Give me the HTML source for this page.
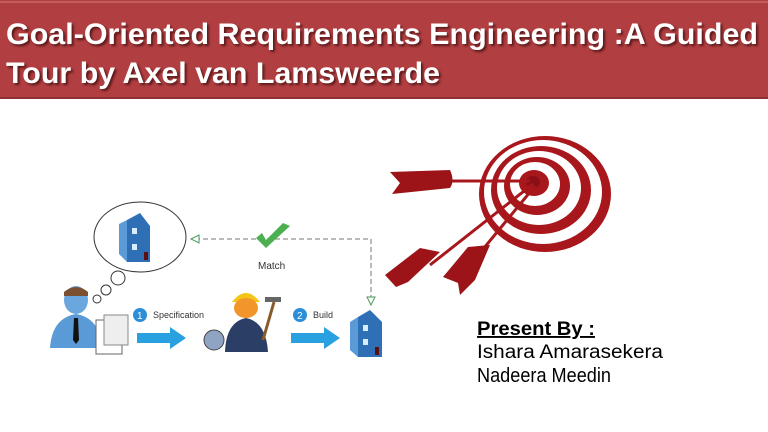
<!DOCTYPE html>
<html><head><meta charset="utf-8"><style>
html,body{margin:0;padding:0;background:#fff;width:768px;height:432px;overflow:hidden}
svg{display:block}
</style></head><body>
<svg width="768" height="432" viewBox="0 0 768 432" xmlns="http://www.w3.org/2000/svg" font-family="Liberation Sans, sans-serif">
<rect x="0" y="0" width="768" height="432" fill="#fff"/>
<rect x="0" y="0" width="768" height="99" fill="#b13e41"/>
<rect x="0" y="97" width="768" height="2" fill="#8e2f31"/>
<rect x="0" y="1" width="768" height="2" fill="#c25c5e"/>
<g font-weight="bold" font-size="30" fill="#fff" style="text-shadow:2px 2px 2px #5a1a1b">
<text x="6" y="44" textLength="752" lengthAdjust="spacingAndGlyphs">Goal-Oriented Requirements Engineering :A Guided</text>
<text x="6" y="83" textLength="434" lengthAdjust="spacingAndGlyphs">Tour by Axel van Lamsweerde</text>
</g>
<!-- target -->
<g>
<ellipse cx="545" cy="194" rx="66" ry="58" fill="#a8171c"/>
<ellipse cx="543" cy="192" rx="59" ry="52" fill="#fff"/>
<ellipse cx="541" cy="190" rx="50" ry="44" fill="#a8171c"/>
<ellipse cx="539" cy="188" rx="42" ry="37" fill="#fff"/>
<ellipse cx="537" cy="186" rx="33" ry="29" fill="#a8171c"/>
<ellipse cx="535" cy="184" rx="25" ry="22" fill="#fff"/>
<ellipse cx="534" cy="183" rx="15" ry="13" fill="#a8171c"/>
<ellipse cx="533" cy="182" rx="7" ry="6" fill="#8a1015"/>
</g>
<g stroke="#a8171c" stroke-width="3" fill="none">
<line x1="440" y1="181" x2="530" y2="181"/>
<line x1="430" y1="265" x2="533" y2="184"/>
<line x1="470" y1="265" x2="535" y2="186"/>
</g>
<path d="M390,172 L450,170 Q455,181 450,188 L392,194 L400,183 Z" fill="#9c1418"/>
<path d="M385,275 L420,248 L440,252 L408,282 L396,287 Z" fill="#9c1418"/>
<path d="M443,277 L468,247 L490,245 L475,280 L460,295 L458,283 Z" fill="#9c1418"/>
<!-- diagram -->
<ellipse cx="140" cy="237" rx="46" ry="35" fill="#fff" stroke="#333" stroke-width="1"/>
<circle cx="118" cy="278" r="7" fill="#fff" stroke="#333"/>
<circle cx="106" cy="290" r="5" fill="#fff" stroke="#333"/>
<circle cx="97" cy="299" r="4" fill="#fff" stroke="#333"/>
<polygon points="127,220 140,213 150,226 150,262 127,262" fill="#2f6fb5"/>
<polygon points="127,220 119,224 119,254 127,262" fill="#5a9ad6"/>
<rect x="132" y="228" width="5" height="6" fill="#d8ecff"/>
<rect x="132" y="244" width="5" height="6" fill="#d8ecff"/>
<rect x="144" y="252" width="4" height="8" fill="#5a1010"/>
<polygon points="358,317 370,310 382,322 382,357 358,357" fill="#2f6fb5"/>
<polygon points="358,317 350,322 350,350 358,357" fill="#5a9ad6"/>
<rect x="363" y="325" width="5" height="6" fill="#d8ecff"/>
<rect x="363" y="339" width="5" height="6" fill="#d8ecff"/>
<rect x="375" y="347" width="4" height="8" fill="#5a1010"/>
<path d="M195,239 L371,239 L371,300" fill="none" stroke="#777" stroke-dasharray="5,3"/>
<polygon points="191,239 199,235 199,243" fill="#fff" stroke="#4a9a5a"/>
<polygon points="367,297 375,297 371,305" fill="#fff" stroke="#4a9a5a"/>
<path d="M256,238 L266,248 L290,226 L283,223 L266,240 L262,233 Z" fill="#4caf50"/>
<text x="258" y="269" font-size="10" fill="#333">Match</text>
<!-- person -->
<ellipse cx="76" cy="300" rx="12" ry="14" fill="#6aa7df"/>
<path d="M64,292 Q76,282 88,292 L88,296 L64,296 Z" fill="#7a5030"/>
<path d="M50,348 Q52,318 76,314 Q100,318 102,348 Z" fill="#5a9ad6"/>
<path d="M74,318 L78,318 L79,340 L76,344 L73,340 Z" fill="#111"/>
<rect x="96" y="320" width="26" height="34" fill="#fff" stroke="#666"/>
<rect x="104" y="315" width="24" height="30" fill="#eee" stroke="#888"/>
<circle cx="140" cy="315" r="7" fill="#2c8ed6"/>
<text x="137" y="319" font-size="10" fill="#fff">1</text>
<text x="153" y="318" font-size="9" fill="#333">Specification</text>
<path d="M137,333 L170,333 L170,327 L186,338 L170,349 L170,343 L137,343 Z" fill="#29a0e0"/>
<circle cx="300" cy="315" r="7" fill="#2c8ed6"/>
<text x="297" y="319" font-size="10" fill="#fff">2</text>
<text x="313" y="318" font-size="9" fill="#333">Build</text>
<path d="M291,333 L324,333 L324,327 L340,338 L324,349 L324,343 L291,343 Z" fill="#29a0e0"/>
<!-- worker -->
<path d="M232,302 Q246,284 260,302 Z" fill="#f6c416"/>
<ellipse cx="246" cy="308" rx="12" ry="10" fill="#f2962b"/>
<path d="M225,352 Q226,322 246,318 Q266,322 268,352 Z" fill="#2b3e66"/>
<circle cx="214" cy="340" r="10" fill="#8fa4c2" stroke="#444"/>
<line x1="263" y1="340" x2="274" y2="302" stroke="#8b5a2b" stroke-width="3"/>
<rect x="265" y="297" width="16" height="5" fill="#666"/>
<!-- presenters -->
<g font-size="19" fill="#000">
<text x="477" y="335" font-weight="bold" text-decoration="underline" textLength="118" lengthAdjust="spacingAndGlyphs">Present By :</text>
<text x="477" y="358" textLength="186" lengthAdjust="spacingAndGlyphs">Ishara Amarasekera</text>
<text x="477" y="382" textLength="134" lengthAdjust="spacingAndGlyphs" font-size="20">Nadeera Meedin</text>
</g>
</svg>
</body></html>
